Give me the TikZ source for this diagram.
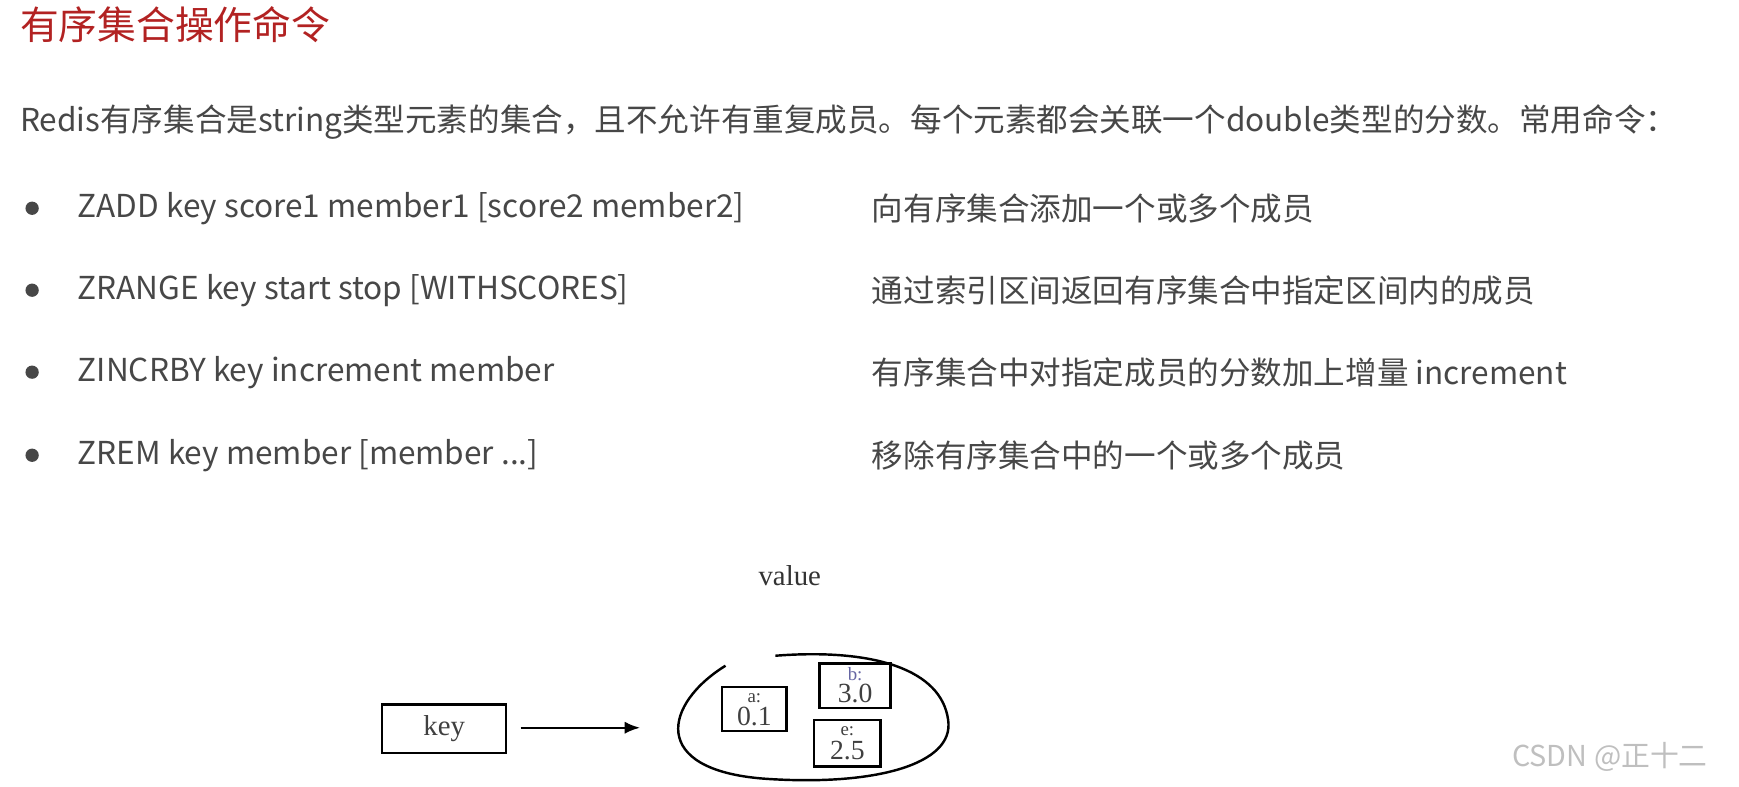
\documentclass[tikz,border=0pt]{standalone}
\usepackage{fontspec}
\newfontfamily\cjk{Noto Sans CJK SC}
\newfontfamily\ser{Liberation Serif}
\usetikzlibrary{arrows.meta}
\begin{document}
\begin{tikzpicture}[x=1pt,y=-1pt,
  txt/.style={anchor=west,inner sep=0pt,font=\cjk\fontsize{28.5}{32}\selectfont,text=black!72},
  bul/.style={circle,fill=black!72,inner sep=0pt,minimum size=12pt},
  hand/.style={draw=black,line width=2.2pt},
  sbox/.style={hand,inner sep=0pt,text=black!75},
  lab/.style={inner sep=0pt,font=\ser\fontsize{17}{17}\selectfont,text=black!75},
  num/.style={inner sep=0pt,font=\ser\fontsize{25}{25}\selectfont,text=black!75}]
\useasboundingbox (0,0) rectangle (1570,710.5);
\node[anchor=west,inner sep=0pt,font=\cjk\fontsize{35}{38}\selectfont,text={rgb,255:red,178;green,34;blue,34}] (title) at (18,22) {有序集合操作命令};
\node[txt] (para) at (18,110) {Redis有序集合是string类型元素的集合，且不允许有重复成员。每个元素都会关联一个double类型的分数。常用命令：};
\foreach \y/\c/\d [count=\i] in {188/{ZADD key score1 member1 [score2 member2]}/{向有序集合添加一个或多个成员},
  262/{ZRANGE key start stop [WITHSCORES]}/{通过索引区间返回有序集合中指定区间内的成员},
  336/{ZINCRBY key increment member}/{有序集合中对指定成员的分数加上增量 increment},
  411/{ZREM key member [member ...]}/{移除有序集合中的一个或多个成员}}{
  \node[bul] (b\i) at (29,\y) {};
  \node[txt] (c\i) at (70,\y) {\c};
  \node[txt] (d\i) at (787,\y) {\d};
}
\node[font=\ser\fontsize{26}{26}\selectfont,text=black!80] (val) at (713,520) {value};
\node[sbox,minimum width=112pt,minimum height=44pt,font=\ser\fontsize{26}{26}\selectfont] (key) at (401,658) {key};
\coordinate (arr) at (578,657);
\draw[line width=2.2pt,-{Latex[length=14pt,width=11pt]}] (470,657) -- (arr);
\draw[line width=2.2pt] (655,601) .. controls (600,635) and (585,695) .. (690,703)
  .. controls (790,710) and (862,690) .. (856,650) .. controls (850,605) and (790,585) .. (700,592);
\node[sbox,minimum width=58pt,minimum height=40pt] (a) at (681,640) {};
\node[sbox,minimum width=64pt,minimum height=40pt] (b) at (772,619) {};
\node[sbox,minimum width=60pt,minimum height=42pt] (e) at (765,671) {};
\node[lab] (al) at ([yshift=10pt]a.center) {a:};
\node[num] (an) at ([yshift=-7pt]a.center) {0.1};
\node[lab,text=blue!40!black!60] (bl) at ([yshift=10pt]b.center) {b:};
\node[num] (bn) at ([yshift=-7pt]b.center) {3.0};
\node[lab] (el) at ([yshift=11pt]e.center) {e:};
\node[num] (en) at ([yshift=-7pt]e.center) {2.5};
\node[anchor=west,inner sep=0pt,font=\cjk\fontsize{26}{26}\selectfont,text=black!25] (wm) at (1365,683) {CSDN @正十二};
\end{tikzpicture}
\end{document}
